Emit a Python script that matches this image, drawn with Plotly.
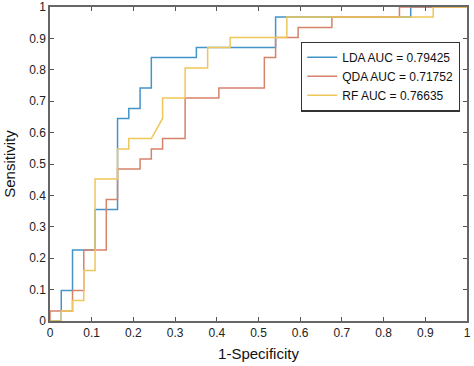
import plotly.graph_objects as go

# LDA ROC
lda_fpr = [0, 0.027, 0.027, 0.054, 0.054, 0.108, 0.108, 0.162, 0.162, 0.189, 0.189, 0.216, 0.216,
           0.243, 0.243, 0.351, 0.351, 0.541, 0.541, 0.865, 0.865, 1]
lda_tpr = [0, 0, 0.097, 0.097, 0.226, 0.226, 0.355, 0.355, 0.645, 0.645, 0.677, 0.677, 0.742,
           0.742, 0.839, 0.839, 0.871, 0.871, 0.968, 0.968, 1, 1]

# QDA ROC
qda_fpr = [0, 0, 0.054, 0.054, 0.081, 0.081, 0.135, 0.135, 0.162, 0.162, 0.216, 0.216, 0.243,
           0.243, 0.270, 0.270, 0.324, 0.324, 0.405, 0.405, 0.514, 0.514, 0.541, 0.541, 0.595,
           0.595, 0.676, 0.676, 0.838, 0.838, 1]
qda_tpr = [0, 0.032, 0.032, 0.097, 0.097, 0.226, 0.226, 0.387, 0.387, 0.484, 0.484, 0.516, 0.516,
           0.548, 0.548, 0.581, 0.581, 0.710, 0.710, 0.742, 0.742, 0.839, 0.839, 0.903, 0.903,
           0.935, 0.935, 0.968, 0.968, 1, 1]

# RF ROC
rf_fpr = [0, 0.027, 0.027, 0.054, 0.054, 0.081, 0.081, 0.108, 0.108, 0.162, 0.162, 0.189, 0.189,
          0.243, 0.270, 0.270, 0.324, 0.324, 0.378, 0.378, 0.432, 0.432, 0.568, 0.568, 0.919,
          0.919, 1]
rf_tpr = [0, 0, 0.032, 0.032, 0.065, 0.065, 0.161, 0.161, 0.452, 0.452, 0.548, 0.548, 0.581,
          0.581, 0.645, 0.710, 0.710, 0.806, 0.806, 0.871, 0.871, 0.903, 0.903, 0.968, 0.968,
          1, 1]

names = ["LDA AUC = 0.79425", "QDA AUC = 0.71752", "RF AUC = 0.76635"]
colors = ["#4394c8", "#d7826a", "#eec65a"]

ticks = [0, 0.1, 0.2, 0.3, 0.4, 0.5, 0.6, 0.7, 0.8, 0.9, 1]
tick_text = ["0", "0.1", "0.2", "0.3", "0.4", "0.5", "0.6", "0.7", "0.8", "0.9", "1"]

FONT = "Liberation Sans, Arial"

fig = go.Figure()
for xs, ys, nm, c in zip([lda_fpr, qda_fpr, rf_fpr], [lda_tpr, qda_tpr, rf_tpr], names, colors):
    fig.add_trace(go.Scatter(x=xs, y=ys, mode="lines", name=nm,
                             line=dict(color=c, width=1.5)))

axis_common = dict(range=[0, 1], tickvals=ticks, ticktext=tick_text, ticks="inside",
                   ticklen=4, tickcolor="#555", showline=True, linecolor="#666",
                   linewidth=1.5, mirror="ticks", showgrid=False, zeroline=False,
                   automargin=False, ticklabeloverflow="allow",
                   tickfont=dict(family=FONT, size=12, color="#222"))

fig.update_layout(
    width=474, height=366,
    margin=dict(l=50, r=7, t=7, b=45),
    plot_bgcolor="white", paper_bgcolor="white",
    xaxis=dict(title=dict(text="1-Specificity", font=dict(family=FONT, size=15, color="#111"), standoff=9), **axis_common),
    yaxis=dict(title=dict(text="Sensitivity", font=dict(family=FONT, size=15, color="#111"), standoff=10), **axis_common),
    legend=dict(x=0.602, y=0.89, xanchor="left", yanchor="top",
                bordercolor="#333", borderwidth=1.2, bgcolor="white",
                font=dict(family=FONT, size=12, color="#111"),
                tracegroupgap=0, itemwidth=30),
    showlegend=True,
)

fig.write_html("out.html", post_script="document.body.style.margin='0';",
               config={"displayModeBar": False})
